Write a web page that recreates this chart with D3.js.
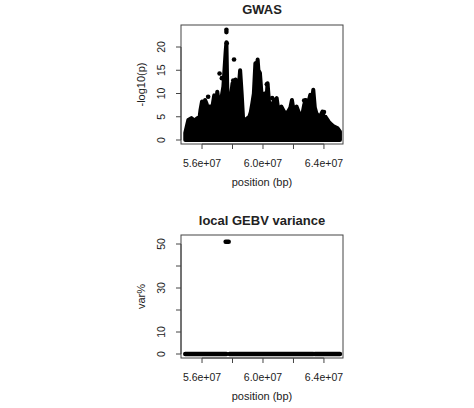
<!DOCTYPE html>
<html lang="en">
<head>
<meta charset="utf-8">
<script src="https://cdn.jsdelivr.net/npm/d3@7"></script>
<style>
  body { margin: 0; background: #fff; }
  text { font-family: "Liberation Sans", Arial, sans-serif; fill: #222; }
</style>
</head>
<body>
<div id="chart"></div>
<script>
// positions in Mb; upper envelope of the GWAS -log10(p) cloud
var gwasPos = [54.9, 55.0, 55.1, 55.3, 55.5, 55.7, 55.8, 55.9, 56.0, 56.1, 56.2, 56.3, 56.4, 56.5, 56.6, 56.8, 56.9,
               57.0, 57.1, 57.2, 57.3, 57.4, 57.5, 57.55, 57.6, 57.65, 57.7, 57.8, 57.9, 58.0, 58.1, 58.2, 58.3, 58.4,
               58.5, 58.6, 58.7, 58.9, 59.1, 59.2, 59.3, 59.4, 59.5, 59.6, 59.65, 59.7, 59.8, 59.9, 60.0, 60.1, 60.2,
               60.3, 60.4, 60.5, 60.7, 60.9, 61.0, 61.2, 61.4, 61.6, 61.8, 61.9, 62.0, 62.2, 62.4, 62.6, 62.7, 62.8,
               62.9, 63.1, 63.2, 63.3, 63.4, 63.5, 63.7, 63.9, 64.0, 64.1, 64.3, 64.4, 64.6, 64.9, 65.05];
var gwasTop = [1.5, 2.9, 4.3, 4.7, 4.2, 4.7, 3.8, 6.5, 8.3, 6.0, 8.6, 7.8, 6.0, 7.2, 5.5, 9.6, 7.0,
               10.4, 8.0, 8.6, 9.5, 11.5, 16.5, 19.0, 21.0, 12.0, 6.5, 7.0, 9.5, 12.2, 10.0, 13.0, 9.5, 11.0,
               15.0, 10.0, 4.3, 4.5, 5.0, 6.0, 7.9, 10.0, 16.5, 15.5, 17.3, 15.0, 14.4, 10.0, 8.6, 10.0, 7.5,
               12.2, 8.0, 7.2, 8.3, 9.0, 6.5, 7.2, 6.0, 5.8, 7.0, 8.6, 6.5, 7.2, 5.5, 5.8, 7.5, 8.6,
               7.0, 9.7, 8.0, 10.8, 7.0, 5.8, 4.8, 6.1, 4.5, 5.0, 4.0, 3.6, 3.0, 2.5, 1.8];
// isolated high points above the cloud
var outPos = [57.6, 57.6, 57.62, 58.1, 57.15, 57.3, 58.05, 60.25, 56.4, 64.0, 62.7, 60.6];
var outVal = [23.7, 23.2, 20.8, 17.3, 14.3, 13.3, 12.8, 12.0, 9.3, 6.0, 8.5, 9.0];

// local GEBV variance: runs of windows with same value
var varStart = [54.9, 57.8, 63.4, 57.55];
var varEnd   = [57.6, 63.3, 65.05, 57.75];
var varVal   = [0, 0, 0, 51];

var xTicks = [56, 58, 60, 62, 64];
var xLabels = {56: "5.6e+07", 60: "6.0e+07", 64: "6.4e+07"};

var svg = d3.select("#chart").append("svg").attr("width", 474).attr("height", 408);
var x = d3.scaleLinear().domain([54.62, 65.25]).range([181, 343]);

function frame(y, top, bottom, yTicks, yLabelTicks, title, ylab, titleY) {
  svg.append("rect").attr("x", 181).attr("y", top).attr("width", 162).attr("height", bottom - top)
    .attr("fill", "none").attr("stroke", "#444").attr("stroke-width", 1);
  svg.append("line").attr("x1", 181).attr("x2", 181).attr("y1", y(d3.min(yTicks))).attr("y2", y(d3.max(yTicks)))
    .attr("stroke", "#444");
  yTicks.forEach(function (t) {
    svg.append("line").attr("x1", 176).attr("x2", 181).attr("y1", y(t)).attr("y2", y(t)).attr("stroke", "#444");
  });
  yLabelTicks.forEach(function (t) {
    svg.append("text").attr("transform", "translate(165," + y(t) + ") rotate(-90)")
      .attr("text-anchor", "middle").attr("font-size", 10.5).text(t);
  });
  svg.append("line").attr("x1", x(56)).attr("x2", x(64)).attr("y1", bottom).attr("y2", bottom).attr("stroke", "#444");
  xTicks.forEach(function (t) {
    svg.append("line").attr("x1", x(t)).attr("x2", x(t)).attr("y1", bottom).attr("y2", bottom + 5).attr("stroke", "#444");
    if (xLabels[t]) svg.append("text").attr("x", x(t)).attr("y", bottom + 23).attr("text-anchor", "middle")
      .attr("font-size", 10.5).text(xLabels[t]);
  });
  svg.append("text").attr("x", 262).attr("y", bottom + 42).attr("text-anchor", "middle")
    .attr("font-size", 11).text("position (bp)");
  svg.append("text").attr("transform", "translate(145," + (top + bottom) / 2 + ") rotate(-90)")
    .attr("text-anchor", "middle").attr("font-size", 11).text(ylab);
  svg.append("text").attr("x", 262).attr("y", titleY).attr("text-anchor", "middle")
    .attr("font-size", 13).attr("font-weight", "bold").text(title);
}

// GWAS panel
var y1 = d3.scaleLinear().domain([0, 20]).range([140, 47]);
frame(y1, 25, 144, [0, 5, 10, 15, 20], [0, 5, 10, 15, 20], "GWAS", "-log10(p)", 14);
var area = d3.area().x(function (d, i) { return x(gwasPos[i]); })
  .y0(y1(0)).y1(function (d) { return y1(d); });
svg.append("path").datum(gwasTop).attr("d", area).attr("fill", "#000")
  .attr("stroke", "#000").attr("stroke-width", 4).attr("stroke-linejoin", "round");
svg.selectAll(".out").data(outVal).enter().append("circle")
  .attr("cx", function (d, i) { return x(outPos[i]); }).attr("cy", function (d) { return y1(d); })
  .attr("r", 2.3).attr("fill", "#000");

// variance panel
var y2 = d3.scaleLinear().domain([0, 50]).range([354, 244]);
frame(y2, 235, 358, [0, 10, 20, 30, 40, 50], [0, 10, 30, 50], "local GEBV variance", "var%", 225);
svg.selectAll(".seg").data(varVal).enter().append("line")
  .attr("x1", function (d, i) { return x(varStart[i]); }).attr("x2", function (d, i) { return x(varEnd[i]); })
  .attr("y1", function (d) { return y2(d); }).attr("y2", function (d) { return y2(d); })
  .attr("stroke", "#000").attr("stroke-width", 4.5).attr("stroke-linecap", "round");
</script>
</body>
</html>
